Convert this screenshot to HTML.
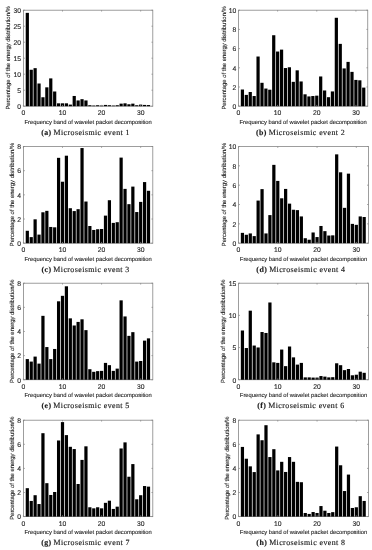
<!DOCTYPE html>
<html lang="en">
<head>
<meta charset="utf-8">
<title>Energy distribution of wavelet packet frequency bands</title>
<style>
html,body{margin:0;padding:0;background:#fff;}
body{width:372px;height:550px;overflow:hidden;}
svg{display:block;}
svg text{text-rendering:geometricPrecision;font-family:"Liberation Sans",sans-serif;fill:#262626;stroke:#262626;stroke-width:0.12px;}
svg text.cap{font-family:"Liberation Serif",serif;fill:#1a1a1a;stroke:#1a1a1a;stroke-width:0.15px;letter-spacing:0.42px;}
</style>
</head>
<body>
<svg width="372" height="550" viewBox="0 0 372 550">
<rect width="372" height="550" fill="#fff"/>
<g>
<rect x="23.50" y="10.20" width="129.30" height="96.00" fill="none" stroke="#858585" stroke-width="0.8"/>
<rect x="25.71" y="12.86" width="3.21" height="93.34" fill="#000"/>
<rect x="29.62" y="69.76" width="3.21" height="36.44" fill="#000"/>
<rect x="33.52" y="68.16" width="3.21" height="38.04" fill="#000"/>
<rect x="37.43" y="83.50" width="3.21" height="22.70" fill="#000"/>
<rect x="41.34" y="97.25" width="3.21" height="8.95" fill="#000"/>
<rect x="45.25" y="87.34" width="3.21" height="18.86" fill="#000"/>
<rect x="49.16" y="78.39" width="3.21" height="27.81" fill="#000"/>
<rect x="53.07" y="91.50" width="3.21" height="14.70" fill="#000"/>
<rect x="56.98" y="103.32" width="3.21" height="2.88" fill="#000"/>
<rect x="60.89" y="103.32" width="3.21" height="2.88" fill="#000"/>
<rect x="64.80" y="103.32" width="3.21" height="2.88" fill="#000"/>
<rect x="68.71" y="104.60" width="3.21" height="1.60" fill="#000"/>
<rect x="72.62" y="95.97" width="3.21" height="10.23" fill="#000"/>
<rect x="76.52" y="100.45" width="3.21" height="5.75" fill="#000"/>
<rect x="80.43" y="99.17" width="3.21" height="7.03" fill="#000"/>
<rect x="84.34" y="100.45" width="3.21" height="5.75" fill="#000"/>
<rect x="88.25" y="105.24" width="3.21" height="0.96" fill="#000"/>
<rect x="92.16" y="105.56" width="3.21" height="0.64" fill="#000"/>
<rect x="96.07" y="105.24" width="3.21" height="0.96" fill="#000"/>
<rect x="99.98" y="105.56" width="3.21" height="0.64" fill="#000"/>
<rect x="103.89" y="104.92" width="3.21" height="1.28" fill="#000"/>
<rect x="107.80" y="105.24" width="3.21" height="0.96" fill="#000"/>
<rect x="111.71" y="105.56" width="3.21" height="0.64" fill="#000"/>
<rect x="115.62" y="105.24" width="3.21" height="0.96" fill="#000"/>
<rect x="119.52" y="103.64" width="3.21" height="2.56" fill="#000"/>
<rect x="123.43" y="103.32" width="3.21" height="2.88" fill="#000"/>
<rect x="127.34" y="104.28" width="3.21" height="1.92" fill="#000"/>
<rect x="131.25" y="103.64" width="3.21" height="2.56" fill="#000"/>
<rect x="135.16" y="105.24" width="3.21" height="0.96" fill="#000"/>
<rect x="139.07" y="104.60" width="3.21" height="1.60" fill="#000"/>
<rect x="142.98" y="104.92" width="3.21" height="1.28" fill="#000"/>
<rect x="146.89" y="105.08" width="3.21" height="1.12" fill="#000"/>
<path d="M23.40 106.20v-1.3M23.40 10.20v1.3" stroke="#858585" stroke-width="0.8"/>
<text x="23.40" y="115.10" font-size="6.8" text-anchor="middle">0</text>
<path d="M62.49 106.20v-1.3M62.49 10.20v1.3" stroke="#858585" stroke-width="0.8"/>
<text x="62.49" y="115.10" font-size="6.8" text-anchor="middle">10</text>
<path d="M101.58 106.20v-1.3M101.58 10.20v1.3" stroke="#858585" stroke-width="0.8"/>
<text x="101.58" y="115.10" font-size="6.8" text-anchor="middle">20</text>
<path d="M140.67 106.20v-1.3M140.67 10.20v1.3" stroke="#858585" stroke-width="0.8"/>
<text x="140.67" y="115.10" font-size="6.8" text-anchor="middle">30</text>
<path d="M23.50 106.20h1.3M152.80 106.20h-1.3" stroke="#858585" stroke-width="0.8"/>
<text x="21.10" y="108.95" font-size="6.8" text-anchor="end">0</text>
<path d="M23.50 90.20h1.3M152.80 90.20h-1.3" stroke="#858585" stroke-width="0.8"/>
<text x="21.10" y="92.95" font-size="6.8" text-anchor="end">5</text>
<path d="M23.50 74.20h1.3M152.80 74.20h-1.3" stroke="#858585" stroke-width="0.8"/>
<text x="21.10" y="76.95" font-size="6.8" text-anchor="end">10</text>
<path d="M23.50 58.20h1.3M152.80 58.20h-1.3" stroke="#858585" stroke-width="0.8"/>
<text x="21.10" y="60.95" font-size="6.8" text-anchor="end">15</text>
<path d="M23.50 42.20h1.3M152.80 42.20h-1.3" stroke="#858585" stroke-width="0.8"/>
<text x="21.10" y="44.95" font-size="6.8" text-anchor="end">20</text>
<path d="M23.50 26.20h1.3M152.80 26.20h-1.3" stroke="#858585" stroke-width="0.8"/>
<text x="21.10" y="28.95" font-size="6.8" text-anchor="end">25</text>
<path d="M23.50 10.20h1.3M152.80 10.20h-1.3" stroke="#858585" stroke-width="0.8"/>
<text x="21.10" y="12.95" font-size="6.8" text-anchor="end">30</text>
<text x="88.15" y="123.70" font-size="5.8" text-anchor="middle">Frequency band of wavelet packet decomposition</text>
<text transform="translate(9.50 57.90) rotate(-90)" font-size="5.92" text-anchor="middle">Percentage of the energy distribution/%</text>
<text class="cap" x="85.55" y="134.70" font-size="7.9" text-anchor="middle"><tspan font-weight="bold">(a)</tspan><tspan dx="-0.5"> Microseismic event 1</tspan></text>
</g>
<g>
<rect x="238.60" y="10.20" width="129.15" height="96.00" fill="none" stroke="#858585" stroke-width="0.8"/>
<rect x="240.81" y="89.51" width="3.21" height="16.69" fill="#000"/>
<rect x="244.72" y="94.88" width="3.21" height="11.32" fill="#000"/>
<rect x="248.64" y="92.01" width="3.21" height="14.19" fill="#000"/>
<rect x="252.55" y="96.03" width="3.21" height="10.17" fill="#000"/>
<rect x="256.46" y="56.52" width="3.21" height="49.68" fill="#000"/>
<rect x="260.38" y="82.80" width="3.21" height="23.40" fill="#000"/>
<rect x="264.29" y="88.55" width="3.21" height="17.65" fill="#000"/>
<rect x="268.20" y="89.71" width="3.21" height="16.49" fill="#000"/>
<rect x="272.12" y="35.23" width="3.21" height="70.97" fill="#000"/>
<rect x="276.03" y="51.54" width="3.21" height="54.66" fill="#000"/>
<rect x="279.95" y="49.62" width="3.21" height="56.58" fill="#000"/>
<rect x="283.86" y="68.03" width="3.21" height="38.17" fill="#000"/>
<rect x="287.77" y="67.26" width="3.21" height="38.94" fill="#000"/>
<rect x="291.69" y="81.84" width="3.21" height="24.36" fill="#000"/>
<rect x="295.60" y="70.33" width="3.21" height="35.87" fill="#000"/>
<rect x="299.51" y="81.46" width="3.21" height="24.74" fill="#000"/>
<rect x="303.43" y="94.31" width="3.21" height="11.89" fill="#000"/>
<rect x="307.34" y="96.42" width="3.21" height="9.78" fill="#000"/>
<rect x="311.25" y="96.03" width="3.21" height="10.17" fill="#000"/>
<rect x="315.17" y="95.65" width="3.21" height="10.55" fill="#000"/>
<rect x="319.08" y="76.47" width="3.21" height="29.73" fill="#000"/>
<rect x="323.00" y="90.47" width="3.21" height="15.73" fill="#000"/>
<rect x="326.91" y="97.19" width="3.21" height="9.01" fill="#000"/>
<rect x="330.82" y="91.43" width="3.21" height="14.77" fill="#000"/>
<rect x="334.74" y="17.78" width="3.21" height="88.42" fill="#000"/>
<rect x="338.65" y="43.87" width="3.21" height="62.34" fill="#000"/>
<rect x="342.56" y="68.42" width="3.21" height="37.78" fill="#000"/>
<rect x="346.48" y="61.89" width="3.21" height="44.31" fill="#000"/>
<rect x="350.39" y="71.87" width="3.21" height="34.33" fill="#000"/>
<rect x="354.30" y="79.92" width="3.21" height="26.28" fill="#000"/>
<rect x="358.22" y="80.31" width="3.21" height="25.89" fill="#000"/>
<rect x="362.13" y="87.60" width="3.21" height="18.60" fill="#000"/>
<path d="M238.50 106.20v-1.3M238.50 10.20v1.3" stroke="#858585" stroke-width="0.8"/>
<text x="238.50" y="115.10" font-size="6.8" text-anchor="middle">0</text>
<path d="M277.64 106.20v-1.3M277.64 10.20v1.3" stroke="#858585" stroke-width="0.8"/>
<text x="277.64" y="115.10" font-size="6.8" text-anchor="middle">10</text>
<path d="M316.77 106.20v-1.3M316.77 10.20v1.3" stroke="#858585" stroke-width="0.8"/>
<text x="316.77" y="115.10" font-size="6.8" text-anchor="middle">20</text>
<path d="M355.91 106.20v-1.3M355.91 10.20v1.3" stroke="#858585" stroke-width="0.8"/>
<text x="355.91" y="115.10" font-size="6.8" text-anchor="middle">30</text>
<path d="M238.60 106.20h1.3M367.75 106.20h-1.3" stroke="#858585" stroke-width="0.8"/>
<text x="236.20" y="108.95" font-size="6.8" text-anchor="end">0</text>
<path d="M238.60 87.00h1.3M367.75 87.00h-1.3" stroke="#858585" stroke-width="0.8"/>
<text x="236.20" y="89.75" font-size="6.8" text-anchor="end">2</text>
<path d="M238.60 67.80h1.3M367.75 67.80h-1.3" stroke="#858585" stroke-width="0.8"/>
<text x="236.20" y="70.55" font-size="6.8" text-anchor="end">4</text>
<path d="M238.60 48.60h1.3M367.75 48.60h-1.3" stroke="#858585" stroke-width="0.8"/>
<text x="236.20" y="51.35" font-size="6.8" text-anchor="end">6</text>
<path d="M238.60 29.40h1.3M367.75 29.40h-1.3" stroke="#858585" stroke-width="0.8"/>
<text x="236.20" y="32.15" font-size="6.8" text-anchor="end">8</text>
<path d="M238.60 10.20h1.3M367.75 10.20h-1.3" stroke="#858585" stroke-width="0.8"/>
<text x="236.20" y="12.95" font-size="6.8" text-anchor="end">10</text>
<text x="303.18" y="123.70" font-size="5.8" text-anchor="middle">Frequency band of wavelet packet decomposition</text>
<text transform="translate(225.60 57.90) rotate(-90)" font-size="5.92" text-anchor="middle">Percentage of the energy distribution/%</text>
<text class="cap" x="300.57" y="134.70" font-size="7.9" text-anchor="middle"><tspan font-weight="bold">(b)</tspan><tspan dx="-0.5"> Microseismic event 2</tspan></text>
</g>
<g>
<rect x="23.50" y="146.50" width="129.30" height="96.70" fill="none" stroke="#858585" stroke-width="0.8"/>
<rect x="25.71" y="230.78" width="3.21" height="12.42" fill="#000"/>
<rect x="29.62" y="237.11" width="3.21" height="6.09" fill="#000"/>
<rect x="33.52" y="219.32" width="3.21" height="23.88" fill="#000"/>
<rect x="37.43" y="234.60" width="3.21" height="8.60" fill="#000"/>
<rect x="41.34" y="212.28" width="3.21" height="30.92" fill="#000"/>
<rect x="45.25" y="210.85" width="3.21" height="32.35" fill="#000"/>
<rect x="49.16" y="226.96" width="3.21" height="16.24" fill="#000"/>
<rect x="53.07" y="227.32" width="3.21" height="15.88" fill="#000"/>
<rect x="56.98" y="157.84" width="3.21" height="85.36" fill="#000"/>
<rect x="60.89" y="181.72" width="3.21" height="61.48" fill="#000"/>
<rect x="64.80" y="155.69" width="3.21" height="87.50" fill="#000"/>
<rect x="68.71" y="208.22" width="3.21" height="34.98" fill="#000"/>
<rect x="72.62" y="211.08" width="3.21" height="32.12" fill="#000"/>
<rect x="76.52" y="209.18" width="3.21" height="34.02" fill="#000"/>
<rect x="80.43" y="148.06" width="3.21" height="95.14" fill="#000"/>
<rect x="84.34" y="201.53" width="3.21" height="41.66" fill="#000"/>
<rect x="88.25" y="226.01" width="3.21" height="17.19" fill="#000"/>
<rect x="92.16" y="229.95" width="3.21" height="13.25" fill="#000"/>
<rect x="96.07" y="229.23" width="3.21" height="13.97" fill="#000"/>
<rect x="99.98" y="228.99" width="3.21" height="14.21" fill="#000"/>
<rect x="103.89" y="215.62" width="3.21" height="27.58" fill="#000"/>
<rect x="107.80" y="200.22" width="3.21" height="42.98" fill="#000"/>
<rect x="111.71" y="222.90" width="3.21" height="20.30" fill="#000"/>
<rect x="115.62" y="222.19" width="3.21" height="21.01" fill="#000"/>
<rect x="119.52" y="157.60" width="3.21" height="85.59" fill="#000"/>
<rect x="123.43" y="188.88" width="3.21" height="54.32" fill="#000"/>
<rect x="127.34" y="204.16" width="3.21" height="39.04" fill="#000"/>
<rect x="131.25" y="186.61" width="3.21" height="56.59" fill="#000"/>
<rect x="135.16" y="212.04" width="3.21" height="31.16" fill="#000"/>
<rect x="139.07" y="201.89" width="3.21" height="41.31" fill="#000"/>
<rect x="142.98" y="182.08" width="3.21" height="61.12" fill="#000"/>
<rect x="146.89" y="190.79" width="3.21" height="52.41" fill="#000"/>
<path d="M23.40 243.20v-1.3M23.40 146.50v1.3" stroke="#858585" stroke-width="0.8"/>
<text x="23.40" y="252.10" font-size="6.8" text-anchor="middle">0</text>
<path d="M62.49 243.20v-1.3M62.49 146.50v1.3" stroke="#858585" stroke-width="0.8"/>
<text x="62.49" y="252.10" font-size="6.8" text-anchor="middle">10</text>
<path d="M101.58 243.20v-1.3M101.58 146.50v1.3" stroke="#858585" stroke-width="0.8"/>
<text x="101.58" y="252.10" font-size="6.8" text-anchor="middle">20</text>
<path d="M140.67 243.20v-1.3M140.67 146.50v1.3" stroke="#858585" stroke-width="0.8"/>
<text x="140.67" y="252.10" font-size="6.8" text-anchor="middle">30</text>
<path d="M23.50 243.20h1.3M152.80 243.20h-1.3" stroke="#858585" stroke-width="0.8"/>
<text x="21.10" y="245.95" font-size="6.8" text-anchor="end">0</text>
<path d="M23.50 219.02h1.3M152.80 219.02h-1.3" stroke="#858585" stroke-width="0.8"/>
<text x="21.10" y="221.77" font-size="6.8" text-anchor="end">2</text>
<path d="M23.50 194.85h1.3M152.80 194.85h-1.3" stroke="#858585" stroke-width="0.8"/>
<text x="21.10" y="197.60" font-size="6.8" text-anchor="end">4</text>
<path d="M23.50 170.68h1.3M152.80 170.68h-1.3" stroke="#858585" stroke-width="0.8"/>
<text x="21.10" y="173.43" font-size="6.8" text-anchor="end">6</text>
<path d="M23.50 146.50h1.3M152.80 146.50h-1.3" stroke="#858585" stroke-width="0.8"/>
<text x="21.10" y="149.25" font-size="6.8" text-anchor="end">8</text>
<text x="88.15" y="260.70" font-size="5.8" text-anchor="middle">Frequency band of wavelet packet decomposition</text>
<text transform="translate(13.90 194.55) rotate(-90)" font-size="5.92" text-anchor="middle">Percentage of the energy distribution/%</text>
<text class="cap" x="85.55" y="271.70" font-size="7.9" text-anchor="middle"><tspan font-weight="bold">(c)</tspan><tspan dx="-0.5"> Microseismic event 3</tspan></text>
</g>
<g>
<rect x="238.60" y="146.50" width="129.85" height="96.70" fill="none" stroke="#858585" stroke-width="0.8"/>
<rect x="240.82" y="232.86" width="3.22" height="10.34" fill="#000"/>
<rect x="244.74" y="234.77" width="3.22" height="8.43" fill="#000"/>
<rect x="248.67" y="233.43" width="3.22" height="9.77" fill="#000"/>
<rect x="252.60" y="236.11" width="3.22" height="7.09" fill="#000"/>
<rect x="256.53" y="200.58" width="3.22" height="42.62" fill="#000"/>
<rect x="260.45" y="189.12" width="3.22" height="54.08" fill="#000"/>
<rect x="264.38" y="233.43" width="3.22" height="9.77" fill="#000"/>
<rect x="268.31" y="215.10" width="3.22" height="28.10" fill="#000"/>
<rect x="272.24" y="164.86" width="3.22" height="78.34" fill="#000"/>
<rect x="276.16" y="180.91" width="3.22" height="62.29" fill="#000"/>
<rect x="280.09" y="198.29" width="3.22" height="44.91" fill="#000"/>
<rect x="284.02" y="188.93" width="3.22" height="54.27" fill="#000"/>
<rect x="287.94" y="203.64" width="3.22" height="39.56" fill="#000"/>
<rect x="291.87" y="209.75" width="3.22" height="33.45" fill="#000"/>
<rect x="295.80" y="210.13" width="3.22" height="33.07" fill="#000"/>
<rect x="299.73" y="216.43" width="3.22" height="26.77" fill="#000"/>
<rect x="303.65" y="238.21" width="3.22" height="4.99" fill="#000"/>
<rect x="307.58" y="239.73" width="3.22" height="3.47" fill="#000"/>
<rect x="311.51" y="232.48" width="3.22" height="10.72" fill="#000"/>
<rect x="315.44" y="237.06" width="3.22" height="6.14" fill="#000"/>
<rect x="319.36" y="225.98" width="3.22" height="17.22" fill="#000"/>
<rect x="323.29" y="231.14" width="3.22" height="12.06" fill="#000"/>
<rect x="327.22" y="235.53" width="3.22" height="7.67" fill="#000"/>
<rect x="331.14" y="235.34" width="3.22" height="7.86" fill="#000"/>
<rect x="335.07" y="154.36" width="3.22" height="88.84" fill="#000"/>
<rect x="339.00" y="172.31" width="3.22" height="70.89" fill="#000"/>
<rect x="342.93" y="207.84" width="3.22" height="35.36" fill="#000"/>
<rect x="346.85" y="173.65" width="3.22" height="69.55" fill="#000"/>
<rect x="350.78" y="223.88" width="3.22" height="19.32" fill="#000"/>
<rect x="354.71" y="224.84" width="3.22" height="18.36" fill="#000"/>
<rect x="358.64" y="216.43" width="3.22" height="26.77" fill="#000"/>
<rect x="362.56" y="217.01" width="3.22" height="26.19" fill="#000"/>
<path d="M238.50 243.20v-1.3M238.50 146.50v1.3" stroke="#858585" stroke-width="0.8"/>
<text x="238.50" y="252.10" font-size="6.8" text-anchor="middle">0</text>
<path d="M277.77 243.20v-1.3M277.77 146.50v1.3" stroke="#858585" stroke-width="0.8"/>
<text x="277.77" y="252.10" font-size="6.8" text-anchor="middle">10</text>
<path d="M317.05 243.20v-1.3M317.05 146.50v1.3" stroke="#858585" stroke-width="0.8"/>
<text x="317.05" y="252.10" font-size="6.8" text-anchor="middle">20</text>
<path d="M356.32 243.20v-1.3M356.32 146.50v1.3" stroke="#858585" stroke-width="0.8"/>
<text x="356.32" y="252.10" font-size="6.8" text-anchor="middle">30</text>
<path d="M238.60 243.20h1.3M368.45 243.20h-1.3" stroke="#858585" stroke-width="0.8"/>
<text x="236.20" y="245.95" font-size="6.8" text-anchor="end">0</text>
<path d="M238.60 223.86h1.3M368.45 223.86h-1.3" stroke="#858585" stroke-width="0.8"/>
<text x="236.20" y="226.61" font-size="6.8" text-anchor="end">2</text>
<path d="M238.60 204.52h1.3M368.45 204.52h-1.3" stroke="#858585" stroke-width="0.8"/>
<text x="236.20" y="207.27" font-size="6.8" text-anchor="end">4</text>
<path d="M238.60 185.18h1.3M368.45 185.18h-1.3" stroke="#858585" stroke-width="0.8"/>
<text x="236.20" y="187.93" font-size="6.8" text-anchor="end">6</text>
<path d="M238.60 165.84h1.3M368.45 165.84h-1.3" stroke="#858585" stroke-width="0.8"/>
<text x="236.20" y="168.59" font-size="6.8" text-anchor="end">8</text>
<path d="M238.60 146.50h1.3M368.45 146.50h-1.3" stroke="#858585" stroke-width="0.8"/>
<text x="236.20" y="149.25" font-size="6.8" text-anchor="end">10</text>
<text x="303.52" y="260.70" font-size="5.8" text-anchor="middle">Frequency band of wavelet packet decomposition</text>
<text transform="translate(225.60 194.55) rotate(-90)" font-size="5.92" text-anchor="middle">Percentage of the energy distribution/%</text>
<text class="cap" x="300.92" y="271.70" font-size="7.9" text-anchor="middle"><tspan font-weight="bold">(d)</tspan><tspan dx="-0.5"> Microseismic event 4</tspan></text>
</g>
<g>
<rect x="23.50" y="283.20" width="129.30" height="96.55" fill="none" stroke="#858585" stroke-width="0.8"/>
<rect x="25.71" y="359.09" width="3.21" height="20.66" fill="#000"/>
<rect x="29.62" y="361.59" width="3.21" height="18.16" fill="#000"/>
<rect x="33.52" y="356.59" width="3.21" height="23.16" fill="#000"/>
<rect x="37.43" y="363.61" width="3.21" height="16.14" fill="#000"/>
<rect x="41.34" y="315.84" width="3.21" height="63.91" fill="#000"/>
<rect x="45.25" y="347.06" width="3.21" height="32.69" fill="#000"/>
<rect x="49.16" y="359.09" width="3.21" height="20.66" fill="#000"/>
<rect x="53.07" y="348.96" width="3.21" height="30.79" fill="#000"/>
<rect x="56.98" y="301.31" width="3.21" height="78.44" fill="#000"/>
<rect x="60.89" y="295.83" width="3.21" height="83.92" fill="#000"/>
<rect x="64.80" y="286.30" width="3.21" height="93.45" fill="#000"/>
<rect x="68.71" y="318.35" width="3.21" height="61.40" fill="#000"/>
<rect x="72.62" y="325.49" width="3.21" height="54.26" fill="#000"/>
<rect x="76.52" y="321.92" width="3.21" height="57.83" fill="#000"/>
<rect x="80.43" y="319.30" width="3.21" height="60.45" fill="#000"/>
<rect x="84.34" y="330.14" width="3.21" height="49.61" fill="#000"/>
<rect x="88.25" y="369.21" width="3.21" height="10.54" fill="#000"/>
<rect x="92.16" y="371.83" width="3.21" height="7.92" fill="#000"/>
<rect x="96.07" y="371.12" width="3.21" height="8.63" fill="#000"/>
<rect x="99.98" y="370.88" width="3.21" height="8.87" fill="#000"/>
<rect x="103.89" y="362.90" width="3.21" height="16.85" fill="#000"/>
<rect x="107.80" y="365.16" width="3.21" height="14.59" fill="#000"/>
<rect x="111.71" y="370.88" width="3.21" height="8.87" fill="#000"/>
<rect x="115.62" y="368.62" width="3.21" height="11.13" fill="#000"/>
<rect x="119.52" y="300.36" width="3.21" height="79.39" fill="#000"/>
<rect x="123.43" y="316.44" width="3.21" height="63.31" fill="#000"/>
<rect x="127.34" y="335.86" width="3.21" height="43.89" fill="#000"/>
<rect x="131.25" y="332.16" width="3.21" height="47.59" fill="#000"/>
<rect x="135.16" y="361.59" width="3.21" height="18.16" fill="#000"/>
<rect x="139.07" y="360.99" width="3.21" height="18.76" fill="#000"/>
<rect x="142.98" y="340.62" width="3.21" height="39.13" fill="#000"/>
<rect x="146.89" y="338.36" width="3.21" height="41.39" fill="#000"/>
<path d="M23.40 379.75v-1.3M23.40 283.20v1.3" stroke="#858585" stroke-width="0.8"/>
<text x="23.40" y="388.65" font-size="6.8" text-anchor="middle">0</text>
<path d="M62.49 379.75v-1.3M62.49 283.20v1.3" stroke="#858585" stroke-width="0.8"/>
<text x="62.49" y="388.65" font-size="6.8" text-anchor="middle">10</text>
<path d="M101.58 379.75v-1.3M101.58 283.20v1.3" stroke="#858585" stroke-width="0.8"/>
<text x="101.58" y="388.65" font-size="6.8" text-anchor="middle">20</text>
<path d="M140.67 379.75v-1.3M140.67 283.20v1.3" stroke="#858585" stroke-width="0.8"/>
<text x="140.67" y="388.65" font-size="6.8" text-anchor="middle">30</text>
<path d="M23.50 379.75h1.3M152.80 379.75h-1.3" stroke="#858585" stroke-width="0.8"/>
<text x="21.10" y="382.50" font-size="6.8" text-anchor="end">0</text>
<path d="M23.50 355.61h1.3M152.80 355.61h-1.3" stroke="#858585" stroke-width="0.8"/>
<text x="21.10" y="358.36" font-size="6.8" text-anchor="end">2</text>
<path d="M23.50 331.48h1.3M152.80 331.48h-1.3" stroke="#858585" stroke-width="0.8"/>
<text x="21.10" y="334.23" font-size="6.8" text-anchor="end">4</text>
<path d="M23.50 307.34h1.3M152.80 307.34h-1.3" stroke="#858585" stroke-width="0.8"/>
<text x="21.10" y="310.09" font-size="6.8" text-anchor="end">6</text>
<path d="M23.50 283.20h1.3M152.80 283.20h-1.3" stroke="#858585" stroke-width="0.8"/>
<text x="21.10" y="285.95" font-size="6.8" text-anchor="end">8</text>
<text x="88.15" y="397.25" font-size="5.8" text-anchor="middle">Frequency band of wavelet packet decomposition</text>
<text transform="translate(13.90 331.18) rotate(-90)" font-size="5.92" text-anchor="middle">Percentage of the energy distribution/%</text>
<text class="cap" x="85.55" y="408.25" font-size="7.9" text-anchor="middle"><tspan font-weight="bold">(e)</tspan><tspan dx="-0.5"> Microseismic event 5</tspan></text>
</g>
<g>
<rect x="238.60" y="283.20" width="129.85" height="96.55" fill="none" stroke="#858585" stroke-width="0.8"/>
<rect x="240.82" y="330.50" width="3.22" height="49.25" fill="#000"/>
<rect x="244.74" y="348.03" width="3.22" height="31.72" fill="#000"/>
<rect x="248.67" y="310.67" width="3.22" height="69.08" fill="#000"/>
<rect x="252.60" y="345.55" width="3.22" height="34.20" fill="#000"/>
<rect x="256.53" y="347.46" width="3.22" height="32.29" fill="#000"/>
<rect x="260.45" y="332.02" width="3.22" height="47.73" fill="#000"/>
<rect x="264.38" y="332.97" width="3.22" height="46.78" fill="#000"/>
<rect x="268.31" y="302.48" width="3.22" height="77.27" fill="#000"/>
<rect x="272.24" y="362.33" width="3.22" height="17.42" fill="#000"/>
<rect x="276.16" y="362.90" width="3.22" height="16.85" fill="#000"/>
<rect x="280.09" y="349.56" width="3.22" height="30.19" fill="#000"/>
<rect x="284.02" y="366.14" width="3.22" height="13.61" fill="#000"/>
<rect x="287.94" y="346.51" width="3.22" height="33.24" fill="#000"/>
<rect x="291.87" y="357.37" width="3.22" height="22.38" fill="#000"/>
<rect x="295.80" y="364.61" width="3.22" height="15.14" fill="#000"/>
<rect x="299.73" y="362.90" width="3.22" height="16.85" fill="#000"/>
<rect x="303.65" y="377.38" width="3.22" height="2.37" fill="#000"/>
<rect x="307.58" y="377.38" width="3.22" height="2.37" fill="#000"/>
<rect x="311.51" y="377.58" width="3.22" height="2.17" fill="#000"/>
<rect x="315.44" y="377.58" width="3.22" height="2.17" fill="#000"/>
<rect x="319.36" y="376.05" width="3.22" height="3.70" fill="#000"/>
<rect x="323.29" y="376.62" width="3.22" height="3.13" fill="#000"/>
<rect x="327.22" y="377.38" width="3.22" height="2.37" fill="#000"/>
<rect x="331.14" y="377.19" width="3.22" height="2.56" fill="#000"/>
<rect x="335.07" y="363.28" width="3.22" height="16.47" fill="#000"/>
<rect x="339.00" y="365.19" width="3.22" height="14.56" fill="#000"/>
<rect x="342.93" y="370.14" width="3.22" height="9.61" fill="#000"/>
<rect x="346.85" y="369.00" width="3.22" height="10.75" fill="#000"/>
<rect x="350.78" y="375.29" width="3.22" height="4.46" fill="#000"/>
<rect x="354.71" y="374.72" width="3.22" height="5.03" fill="#000"/>
<rect x="358.64" y="371.67" width="3.22" height="8.08" fill="#000"/>
<rect x="362.56" y="372.81" width="3.22" height="6.94" fill="#000"/>
<path d="M238.50 379.75v-1.3M238.50 283.20v1.3" stroke="#858585" stroke-width="0.8"/>
<text x="238.50" y="388.65" font-size="6.8" text-anchor="middle">0</text>
<path d="M277.77 379.75v-1.3M277.77 283.20v1.3" stroke="#858585" stroke-width="0.8"/>
<text x="277.77" y="388.65" font-size="6.8" text-anchor="middle">10</text>
<path d="M317.05 379.75v-1.3M317.05 283.20v1.3" stroke="#858585" stroke-width="0.8"/>
<text x="317.05" y="388.65" font-size="6.8" text-anchor="middle">20</text>
<path d="M356.32 379.75v-1.3M356.32 283.20v1.3" stroke="#858585" stroke-width="0.8"/>
<text x="356.32" y="388.65" font-size="6.8" text-anchor="middle">30</text>
<path d="M238.60 379.75h1.3M368.45 379.75h-1.3" stroke="#858585" stroke-width="0.8"/>
<text x="236.20" y="382.50" font-size="6.8" text-anchor="end">0</text>
<path d="M238.60 347.57h1.3M368.45 347.57h-1.3" stroke="#858585" stroke-width="0.8"/>
<text x="236.20" y="350.32" font-size="6.8" text-anchor="end">5</text>
<path d="M238.60 315.38h1.3M368.45 315.38h-1.3" stroke="#858585" stroke-width="0.8"/>
<text x="236.20" y="318.13" font-size="6.8" text-anchor="end">10</text>
<path d="M238.60 283.20h1.3M368.45 283.20h-1.3" stroke="#858585" stroke-width="0.8"/>
<text x="236.20" y="285.95" font-size="6.8" text-anchor="end">15</text>
<text x="303.52" y="397.25" font-size="5.8" text-anchor="middle">Frequency band of wavelet packet decomposition</text>
<text transform="translate(225.10 331.18) rotate(-90)" font-size="5.92" text-anchor="middle">Percentage of the energy distribution/%</text>
<text class="cap" x="300.92" y="408.25" font-size="7.9" text-anchor="middle"><tspan font-weight="bold">(f)</tspan><tspan dx="-0.5"> Microseismic event 6</tspan></text>
</g>
<g>
<rect x="23.50" y="420.20" width="129.30" height="96.40" fill="none" stroke="#858585" stroke-width="0.8"/>
<rect x="25.71" y="488.18" width="3.21" height="28.42" fill="#000"/>
<rect x="29.62" y="500.94" width="3.21" height="15.66" fill="#000"/>
<rect x="33.52" y="495.21" width="3.21" height="21.39" fill="#000"/>
<rect x="37.43" y="504.04" width="3.21" height="12.56" fill="#000"/>
<rect x="41.34" y="433.20" width="3.21" height="83.40" fill="#000"/>
<rect x="45.25" y="483.17" width="3.21" height="33.43" fill="#000"/>
<rect x="49.16" y="494.97" width="3.21" height="21.63" fill="#000"/>
<rect x="53.07" y="491.99" width="3.21" height="24.61" fill="#000"/>
<rect x="56.98" y="440.48" width="3.21" height="76.12" fill="#000"/>
<rect x="60.89" y="422.11" width="3.21" height="94.49" fill="#000"/>
<rect x="64.80" y="435.11" width="3.21" height="81.49" fill="#000"/>
<rect x="68.71" y="446.80" width="3.21" height="69.80" fill="#000"/>
<rect x="72.62" y="449.06" width="3.21" height="67.54" fill="#000"/>
<rect x="76.52" y="484.00" width="3.21" height="32.60" fill="#000"/>
<rect x="80.43" y="459.91" width="3.21" height="56.69" fill="#000"/>
<rect x="84.34" y="446.32" width="3.21" height="70.28" fill="#000"/>
<rect x="88.25" y="507.26" width="3.21" height="9.34" fill="#000"/>
<rect x="92.16" y="508.33" width="3.21" height="8.27" fill="#000"/>
<rect x="96.07" y="507.26" width="3.21" height="9.34" fill="#000"/>
<rect x="99.98" y="508.33" width="3.21" height="8.27" fill="#000"/>
<rect x="103.89" y="502.84" width="3.21" height="13.76" fill="#000"/>
<rect x="107.80" y="500.70" width="3.21" height="15.90" fill="#000"/>
<rect x="111.71" y="508.93" width="3.21" height="7.67" fill="#000"/>
<rect x="115.62" y="506.66" width="3.21" height="9.94" fill="#000"/>
<rect x="119.52" y="448.47" width="3.21" height="68.13" fill="#000"/>
<rect x="123.43" y="442.38" width="3.21" height="74.22" fill="#000"/>
<rect x="127.34" y="476.73" width="3.21" height="39.87" fill="#000"/>
<rect x="131.25" y="464.09" width="3.21" height="52.51" fill="#000"/>
<rect x="135.16" y="499.27" width="3.21" height="17.33" fill="#000"/>
<rect x="139.07" y="495.21" width="3.21" height="21.39" fill="#000"/>
<rect x="142.98" y="486.03" width="3.21" height="30.57" fill="#000"/>
<rect x="146.89" y="486.63" width="3.21" height="29.97" fill="#000"/>
<path d="M23.40 516.60v-1.3M23.40 420.20v1.3" stroke="#858585" stroke-width="0.8"/>
<text x="23.40" y="525.50" font-size="6.8" text-anchor="middle">0</text>
<path d="M62.49 516.60v-1.3M62.49 420.20v1.3" stroke="#858585" stroke-width="0.8"/>
<text x="62.49" y="525.50" font-size="6.8" text-anchor="middle">10</text>
<path d="M101.58 516.60v-1.3M101.58 420.20v1.3" stroke="#858585" stroke-width="0.8"/>
<text x="101.58" y="525.50" font-size="6.8" text-anchor="middle">20</text>
<path d="M140.67 516.60v-1.3M140.67 420.20v1.3" stroke="#858585" stroke-width="0.8"/>
<text x="140.67" y="525.50" font-size="6.8" text-anchor="middle">30</text>
<path d="M23.50 516.60h1.3M152.80 516.60h-1.3" stroke="#858585" stroke-width="0.8"/>
<text x="21.10" y="519.35" font-size="6.8" text-anchor="end">0</text>
<path d="M23.50 492.50h1.3M152.80 492.50h-1.3" stroke="#858585" stroke-width="0.8"/>
<text x="21.10" y="495.25" font-size="6.8" text-anchor="end">2</text>
<path d="M23.50 468.40h1.3M152.80 468.40h-1.3" stroke="#858585" stroke-width="0.8"/>
<text x="21.10" y="471.15" font-size="6.8" text-anchor="end">4</text>
<path d="M23.50 444.30h1.3M152.80 444.30h-1.3" stroke="#858585" stroke-width="0.8"/>
<text x="21.10" y="447.05" font-size="6.8" text-anchor="end">6</text>
<path d="M23.50 420.20h1.3M152.80 420.20h-1.3" stroke="#858585" stroke-width="0.8"/>
<text x="21.10" y="422.95" font-size="6.8" text-anchor="end">8</text>
<text x="88.15" y="534.10" font-size="5.8" text-anchor="middle">Frequency band of wavelet packet decomposition</text>
<text transform="translate(13.90 468.10) rotate(-90)" font-size="5.92" text-anchor="middle">Percentage of the energy distribution/%</text>
<text class="cap" x="85.55" y="545.10" font-size="7.9" text-anchor="middle"><tspan font-weight="bold">(g)</tspan><tspan dx="-0.5"> Microseismic event 7</tspan></text>
</g>
<g>
<rect x="238.60" y="420.20" width="129.85" height="96.40" fill="none" stroke="#858585" stroke-width="0.8"/>
<rect x="240.82" y="446.92" width="3.22" height="69.68" fill="#000"/>
<rect x="244.74" y="458.72" width="3.22" height="57.88" fill="#000"/>
<rect x="248.67" y="466.35" width="3.22" height="50.25" fill="#000"/>
<rect x="252.60" y="472.08" width="3.22" height="44.52" fill="#000"/>
<rect x="256.53" y="434.39" width="3.22" height="82.21" fill="#000"/>
<rect x="260.45" y="440.24" width="3.22" height="76.36" fill="#000"/>
<rect x="264.38" y="425.21" width="3.22" height="91.39" fill="#000"/>
<rect x="268.31" y="457.05" width="3.22" height="59.55" fill="#000"/>
<rect x="272.24" y="449.18" width="3.22" height="67.42" fill="#000"/>
<rect x="276.16" y="470.41" width="3.22" height="46.19" fill="#000"/>
<rect x="280.09" y="461.82" width="3.22" height="54.78" fill="#000"/>
<rect x="284.02" y="471.96" width="3.22" height="44.64" fill="#000"/>
<rect x="287.94" y="457.05" width="3.22" height="59.55" fill="#000"/>
<rect x="291.87" y="461.82" width="3.22" height="54.78" fill="#000"/>
<rect x="295.80" y="481.86" width="3.22" height="34.74" fill="#000"/>
<rect x="299.73" y="482.21" width="3.22" height="34.39" fill="#000"/>
<rect x="303.65" y="512.98" width="3.22" height="3.62" fill="#000"/>
<rect x="307.58" y="513.93" width="3.22" height="2.67" fill="#000"/>
<rect x="311.51" y="512.03" width="3.22" height="4.57" fill="#000"/>
<rect x="315.44" y="512.98" width="3.22" height="3.62" fill="#000"/>
<rect x="319.36" y="506.06" width="3.22" height="10.54" fill="#000"/>
<rect x="323.29" y="510.71" width="3.22" height="5.89" fill="#000"/>
<rect x="327.22" y="512.98" width="3.22" height="3.62" fill="#000"/>
<rect x="331.14" y="512.15" width="3.22" height="4.45" fill="#000"/>
<rect x="335.07" y="446.56" width="3.22" height="70.04" fill="#000"/>
<rect x="339.00" y="465.28" width="3.22" height="51.32" fill="#000"/>
<rect x="342.93" y="491.04" width="3.22" height="25.56" fill="#000"/>
<rect x="346.85" y="474.58" width="3.22" height="42.02" fill="#000"/>
<rect x="350.78" y="507.97" width="3.22" height="8.63" fill="#000"/>
<rect x="354.71" y="507.26" width="3.22" height="9.34" fill="#000"/>
<rect x="358.64" y="496.17" width="3.22" height="20.43" fill="#000"/>
<rect x="362.56" y="500.94" width="3.22" height="15.66" fill="#000"/>
<path d="M238.50 516.60v-1.3M238.50 420.20v1.3" stroke="#858585" stroke-width="0.8"/>
<text x="238.50" y="525.50" font-size="6.8" text-anchor="middle">0</text>
<path d="M277.77 516.60v-1.3M277.77 420.20v1.3" stroke="#858585" stroke-width="0.8"/>
<text x="277.77" y="525.50" font-size="6.8" text-anchor="middle">10</text>
<path d="M317.05 516.60v-1.3M317.05 420.20v1.3" stroke="#858585" stroke-width="0.8"/>
<text x="317.05" y="525.50" font-size="6.8" text-anchor="middle">20</text>
<path d="M356.32 516.60v-1.3M356.32 420.20v1.3" stroke="#858585" stroke-width="0.8"/>
<text x="356.32" y="525.50" font-size="6.8" text-anchor="middle">30</text>
<path d="M238.60 516.60h1.3M368.45 516.60h-1.3" stroke="#858585" stroke-width="0.8"/>
<text x="236.20" y="519.35" font-size="6.8" text-anchor="end">0</text>
<path d="M238.60 492.50h1.3M368.45 492.50h-1.3" stroke="#858585" stroke-width="0.8"/>
<text x="236.20" y="495.25" font-size="6.8" text-anchor="end">2</text>
<path d="M238.60 468.40h1.3M368.45 468.40h-1.3" stroke="#858585" stroke-width="0.8"/>
<text x="236.20" y="471.15" font-size="6.8" text-anchor="end">4</text>
<path d="M238.60 444.30h1.3M368.45 444.30h-1.3" stroke="#858585" stroke-width="0.8"/>
<text x="236.20" y="447.05" font-size="6.8" text-anchor="end">6</text>
<path d="M238.60 420.20h1.3M368.45 420.20h-1.3" stroke="#858585" stroke-width="0.8"/>
<text x="236.20" y="422.95" font-size="6.8" text-anchor="end">8</text>
<text x="303.52" y="534.10" font-size="5.8" text-anchor="middle">Frequency band of wavelet packet decomposition</text>
<text transform="translate(228.90 468.10) rotate(-90)" font-size="5.92" text-anchor="middle">Percentage of the energy distribution/%</text>
<text class="cap" x="300.92" y="545.10" font-size="7.9" text-anchor="middle"><tspan font-weight="bold">(h)</tspan><tspan dx="-0.5"> Microseismic event 8</tspan></text>
</g>
</svg>
</body>
</html>
